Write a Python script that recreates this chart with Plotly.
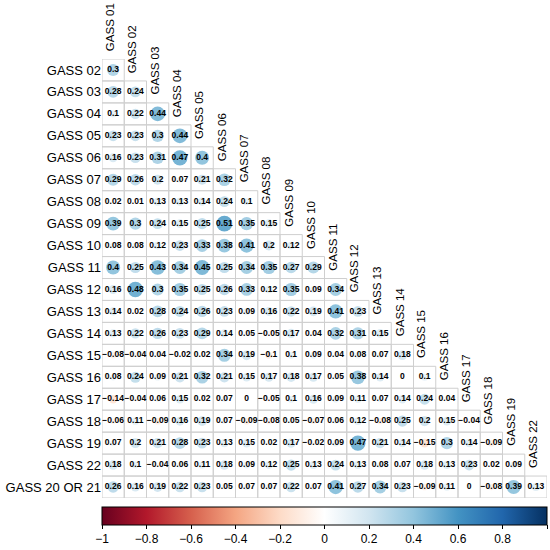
import plotly.graph_objects as go

# item labels
col_labels = ["GASS 01", "GASS 02", "GASS 03", "GASS 04", "GASS 05", "GASS 06", "GASS 07",
              "GASS 08", "GASS 09", "GASS 10", "GASS 11", "GASS 12", "GASS 13", "GASS 14",
              "GASS 15", "GASS 16", "GASS 17", "GASS 18", "GASS 19", "GASS 22"]
row_labels = ["GASS 02", "GASS 03", "GASS 04", "GASS 05", "GASS 06", "GASS 07", "GASS 08",
              "GASS 09", "GASS 10", "GASS 11", "GASS 12", "GASS 13", "GASS 14", "GASS 15",
              "GASS 16", "GASS 17", "GASS 18", "GASS 19", "GASS 22", "GASS 20 OR 21"]

# lower triangle correlations, one list per row
r_02 = [0.3]
r_03 = [0.28, 0.24]
r_04 = [0.1, 0.22, 0.44]
r_05 = [0.23, 0.23, 0.3, 0.44]
r_06 = [0.16, 0.23, 0.31, 0.47, 0.4]
r_07 = [0.29, 0.26, 0.2, 0.07, 0.21, 0.32]
r_08 = [0.02, 0.01, 0.13, 0.13, 0.14, 0.24, 0.1]
r_09 = [0.39, 0.3, 0.24, 0.15, 0.25, 0.51, 0.35, 0.15]
r_10 = [0.08, 0.08, 0.12, 0.23, 0.33, 0.38, 0.41, 0.2, 0.12]
r_11 = [0.4, 0.25, 0.43, 0.34, 0.45, 0.25, 0.34, 0.35, 0.27, 0.29]
r_12 = [0.16, 0.48, 0.3, 0.35, 0.25, 0.26, 0.33, 0.12, 0.35, 0.09, 0.34]
r_13 = [0.14, 0.02, 0.28, 0.24, 0.26, 0.23, 0.09, 0.16, 0.22, 0.19, 0.41, 0.23]
r_14 = [0.13, 0.22, 0.26, 0.23, 0.29, 0.14, 0.05, -0.05, 0.17, 0.04, 0.32, 0.31, 0.15]
r_15 = [-0.08, -0.04, 0.04, -0.02, 0.02, 0.34, 0.19, -0.1, 0.1, 0.09, 0.04, 0.08, 0.07, 0.18]
r_16 = [0.08, 0.24, 0.09, 0.21, 0.32, 0.21, 0.15, 0.17, 0.18, 0.17, 0.05, 0.38, 0.14, 0, 0.1]
r_17 = [-0.14, -0.04, 0.06, 0.15, 0.02, 0.07, 0, -0.05, 0.1, 0.16, 0.09, 0.11, 0.07, 0.14,
        0.24, 0.04]
r_18 = [-0.06, 0.11, -0.09, 0.16, 0.19, 0.07, -0.09, -0.08, 0.05, -0.07, 0.06, 0.12, -0.08,
        0.25, 0.2, 0.15, -0.04]
r_19 = [0.07, 0.2, 0.21, 0.28, 0.23, 0.13, 0.15, 0.02, 0.17, -0.02, 0.09, 0.47, 0.21, 0.14,
        -0.15, 0.3, 0.14, -0.09]
r_22 = [0.18, 0.1, -0.04, 0.06, 0.11, 0.18, 0.09, 0.12, 0.25, 0.13, 0.24, 0.13, 0.08, 0.07,
        0.18, 0.13, 0.23, 0.02, 0.09]
r_2021 = [0.26, 0.16, 0.19, 0.22, 0.23, 0.05, 0.07, 0.07, 0.22, 0.07, 0.41, 0.27, 0.34, 0.23,
          -0.09, 0.11, 0, -0.08, 0.39, 0.13]

rows = [r_02, r_03, r_04, r_05, r_06, r_07, r_08, r_09, r_10, r_11, r_12, r_13, r_14, r_15,
        r_16, r_17, r_18, r_19, r_22, r_2021]

rdbu = ["#67001F", "#B2182B", "#D6604D", "#F4A582", "#FDDBC7", "#FFFFFF",
        "#D1E5F0", "#92C5DE", "#4393C3", "#2166AC", "#053061"]
colorscale = [[i / 10, c] for i, c in enumerate(rdbu)]

cell_px = 22.25  # pixel size of one cell with the margins below

xs, ys, vals, sizes, labels = [], [], [], [], []
for i, row in enumerate(rows):
    for j, v in enumerate(row):
        xs.append(j)
        ys.append(i)
        vals.append(v)
        sizes.append(cell_px * abs(v) ** 0.5)
        labels.append(f"{v:g}".replace("-", "\u2212"))

fig = go.Figure()

# cell grid
for i, row in enumerate(rows):
    for j in range(len(row)):
        fig.add_shape(type="rect", x0=j - 0.5, x1=j + 0.5, y0=i - 0.5, y1=i + 0.5,
                      line=dict(color="#cfcfcf", width=1), layer="below")

fig.add_trace(go.Scatter(
    x=xs, y=ys, mode="markers",
    marker=dict(size=sizes, color=vals, colorscale=colorscale, cmin=-1, cmax=1,
                line=dict(width=0), opacity=1,
                colorbar=dict(orientation="h", x=0, xanchor="left", xref="paper",
                              y=-0.02, yanchor="top", yref="paper",
                              len=1, lenmode="fraction", thickness=18,
                              xpad=0, ypad=0, outlinewidth=1, outlinecolor="black",
                              tickvals=[-1, -0.8, -0.6, -0.4, -0.2, 0, 0.2, 0.4, 0.6, 0.8, 1],
                              ticks="outside", ticklen=4, tickcolor="black",
                              tickfont=dict(size=12, color="black", family="Liberation Sans"))),
    hoverinfo="skip", showlegend=False))

fig.add_trace(go.Scatter(
    x=xs, y=ys, mode="text", text=labels,
    textfont=dict(size=8.5, color="black", family="Liberation Sans", weight="bold"),
    hoverinfo="skip", showlegend=False))

# column labels sit above the diagonal
for j, lab in enumerate(col_labels):
    fig.add_annotation(x=j, y=j - 0.5, text=lab, textangle=-90, showarrow=False,
                       xanchor="center", yanchor="bottom", xshift=-3, yshift=6,
                       font=dict(size=11.5, color="black", family="Liberation Sans"))

fig.update_xaxes(range=[-0.5, 19.5], showgrid=False, zeroline=False, showticklabels=False,
                 showline=False, automargin=False)
fig.update_yaxes(range=[19.5, -0.5], showgrid=False, zeroline=False, showline=False,
                 tickvals=list(range(len(row_labels))), ticktext=row_labels, ticks="",
                 automargin=False,
                 tickfont=dict(size=13, color="black", family="Liberation Sans"))

fig.update_layout(width=550, height=550, margin=dict(l=102, r=3, t=59, b=47),
                  plot_bgcolor="white", paper_bgcolor="white")

# drop the default page margin so the figure fills the window
fig.write_html("out.html", config={"displayModeBar": False},
               post_script="document.body.style.margin = '0';")
